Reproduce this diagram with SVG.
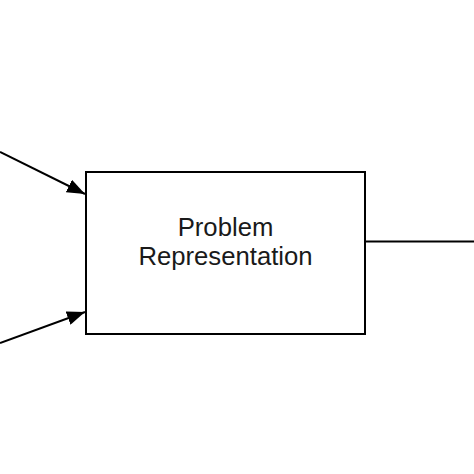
<svg xmlns="http://www.w3.org/2000/svg" width="474" height="474" viewBox="0 0 474 474">
<style>
.edge{stroke:#000;stroke-width:2;fill:none}
.box{fill:#fff;stroke:#000;stroke-width:2}
.lbl{font-family:"Liberation Sans",Arial,sans-serif;font-size:25.7px;fill:#1a1a1a;text-anchor:middle}
</style>
<defs>
<marker id="ah" markerWidth="18" markerHeight="14" refX="18" refY="7" orient="auto" markerUnits="userSpaceOnUse">
<path d="M0,0 L18,7 L0,14 z" fill="#000"/>
</marker>
</defs>
<rect width="474" height="474" fill="#fff"/>
<g id="connectors">
<line class="edge" x1="0" y1="152" x2="85" y2="194" marker-end="url(#ah)"/>
<line class="edge" x1="0" y1="343" x2="85" y2="312" marker-end="url(#ah)"/>
<line class="edge" x1="365" y1="241.5" x2="474" y2="241.5"/>
</g>
<g id="node-problem-representation">
<rect class="box" x="86" y="172" width="279" height="162"/>
<text class="lbl" x="225.5" y="236">Problem</text>
<text class="lbl" x="225.5" y="265">Representation</text>
</g>
</svg>
